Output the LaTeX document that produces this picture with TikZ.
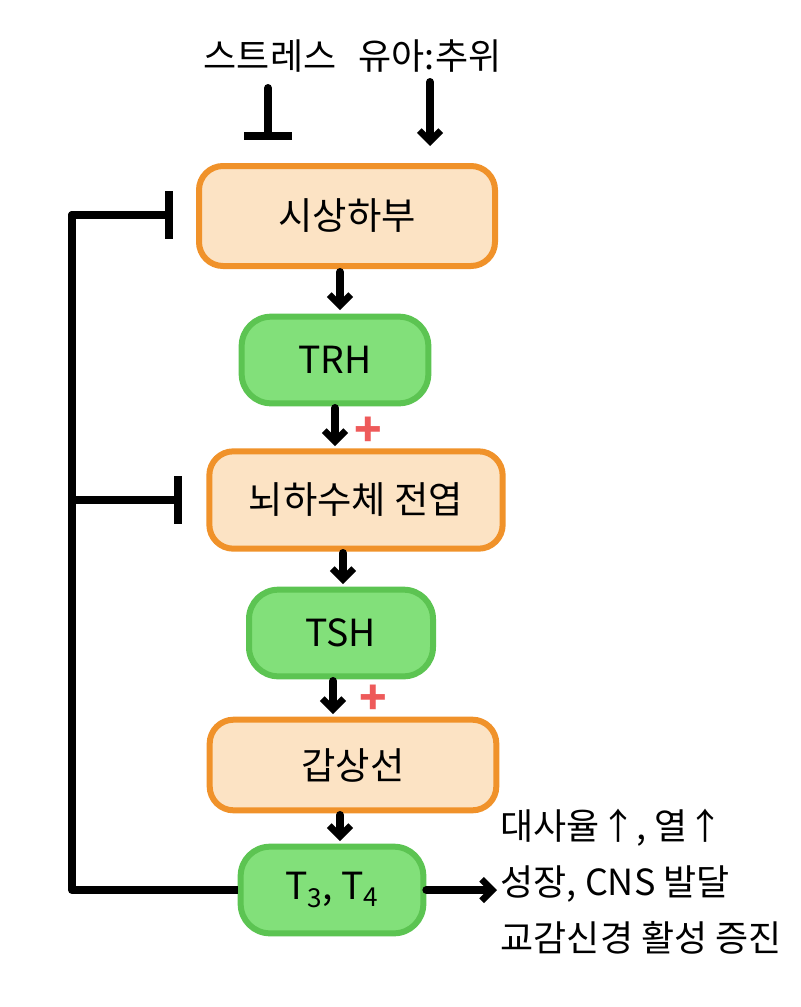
\documentclass[tikz,border=0pt]{standalone}
\usepackage{fontspec}
\setmainfont{Noto Sans CJK KR}
\usetikzlibrary{arrows.meta}
\definecolor{ofill}{HTML}{FCE3C4}
\definecolor{oline}{HTML}{F0922A}
\definecolor{gfill}{HTML}{82E07A}
\definecolor{gline}{HTML}{5CC452}
\definecolor{plus}{HTML}{EE5A5A}
\begin{document}
\begin{tikzpicture}[x=0.75pt,y=-0.75pt,
 obox/.style={draw=oline,fill=ofill,line width=4.5pt,rounded corners=18pt,font=\fontsize{28}{32}\selectfont},
 gbox/.style={draw=gline,fill=gfill,line width=4.5pt,rounded corners=22pt,font=\fontsize{28}{32}\selectfont},
 arr/.style={line width=6pt,-{Straight Barb[length=8pt,width=16pt,line width=5pt]},line cap=round},
 inh/.style={line width=6pt,-{Bar[width=36pt,line width=6pt]},line cap=round},
 fb/.style={line width=6pt,line join=round},
 lbl/.style={font=\fontsize{27}{32}\selectfont},
 pl/.style={text=plus,font=\bfseries\fontsize{34}{34}\selectfont}]
\useasboundingbox (0,0) rectangle (800,1007);
\node[obox,minimum width=222pt,minimum height=75pt] (hyp) at (347,216) {시상하부};
\node[gbox,minimum width=140pt,minimum height=65pt] (trh) at (335,360) {TRH};
\node[obox,minimum width=220pt,minimum height=73pt] (pit) at (356,500) {뇌하수체 전엽};
\node[gbox,minimum width=138pt,minimum height=65pt] (tsh) at (341,633) {TSH};
\node[obox,minimum width=215pt,minimum height=68pt] (thy) at (353,765) {갑상선};
\node[gbox,minimum width=137pt,minimum height=65pt] (t34) at (332,890) {T\textsubscript{3}, T\textsubscript{4}};
\node[lbl] (stress) at (270,56) {스트레스};
\node[lbl] (cold) at (430,56) {유아:추위};
\coordinate (s1) at (268,88); \coordinate (s2) at (268,140);
\coordinate (c1) at (430,82); \coordinate (c2) at (430,146);
\draw[inh] (s1) -- (s2);
\draw[arr] (c1) -- (c2);
\draw[arr] (340,272) -- (340,310);
\draw[arr] (335,408) -- (335,446);
\draw[arr] (343,553) -- (343,584);
\draw[arr] (333,681) -- (333,714);
\draw[arr] (340,815) -- (340,841);
\node[pl] (p1) at (368,432) {+};
\node[pl] (p2) at (373,700) {+};
\coordinate (fa) at (72,215); \coordinate (fb) at (72,890);
\coordinate (fm) at (72,500);
\draw[fb] (170,215) -- (fa) -- (fb) -- (t34.west);
\draw[inh] (fa) -- (173,215);
\draw[inh] (fm) -- (182,500);
\coordinate (out) at (497,890);
\draw[arr] (t34.east) -- (out);
\node[lbl,anchor=west,align=left] (eff) at (496,882) {대사율↑, 열↑\\[10pt]성장, CNS 발달\\[10pt]교감신경 활성 증진};
\end{tikzpicture}
\end{document}
